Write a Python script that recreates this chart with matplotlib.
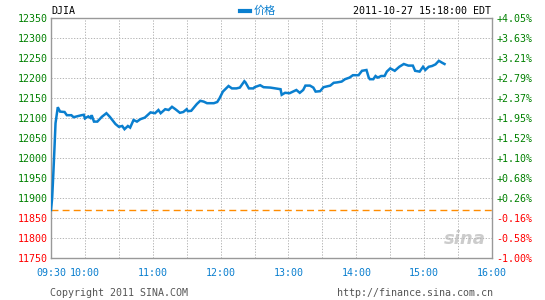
import matplotlib
matplotlib.use("Agg")
import matplotlib.pyplot as plt
from matplotlib.ticker import FixedLocator

# ---- data ----
times = ["09:30", "09:31", "09:32", "09:33", "09:34", "09:36", "09:38", "09:42", "09:44", "09:48",
         "09:50", "09:57", "09:59", "10:00", "10:03", "10:05", "10:06", "10:08", "10:11", "10:15",
         "10:19", "10:22", "10:27", "10:30", "10:33", "10:35", "10:38", "10:40", "10:43", "10:46",
         "10:49", "10:53", "10:58", "11:02", "11:05", "11:07", "11:11", "11:14", "11:17", "11:20",
         "11:24", "11:27", "11:30", "11:31", "11:34", "11:39", "11:42", "11:45", "11:48", "11:54",
         "11:57", "11:59", "12:02", "12:07", "12:10", "12:14", "12:17", "12:21", "12:22", "12:25",
         "12:29", "12:30", "12:35", "12:38", "12:44", "12:53", "12:54", "12:57", "13:01", "13:04",
         "13:07", "13:10", "13:13", "13:15", "13:19", "13:22", "13:24", "13:28", "13:31", "13:37",
         "13:40", "13:43", "13:47", "13:50", "13:54", "13:57", "14:02", "14:05", "14:09", "14:11",
         "14:12", "14:15", "14:17", "14:19", "14:22", "14:25", "14:27", "14:30", "14:34", "14:38",
         "14:42", "14:46", "14:50", "14:52", "14:56", "14:59", "15:01", "15:04", "15:07", "15:10",
         "15:13", "15:16", "15:18"]
prices = [11870, 11899, 11957, 12020, 12087, 12127, 12116, 12115, 12107, 12107,
          12102, 12107, 12108, 12099, 12104, 12100, 12107, 12091, 12091, 12103,
          12112, 12103, 12085, 12078, 12080, 12072, 12080, 12076, 12095, 12091,
          12097, 12101, 12114, 12112, 12120, 12112, 12122, 12120, 12128, 12122,
          12113, 12115, 12122, 12117, 12118, 12135, 12143, 12141, 12137, 12137,
          12140, 12149, 12166, 12180, 12174, 12174, 12176, 12192, 12189, 12174,
          12174, 12177, 12182, 12177, 12176, 12172, 12158, 12163, 12162, 12166,
          12170, 12163, 12170, 12181, 12181, 12176, 12166, 12167, 12177, 12181,
          12188, 12189, 12191, 12197, 12201, 12207, 12207, 12218, 12220, 12201,
          12197, 12197, 12205, 12201, 12205, 12205, 12216, 12224, 12218, 12228,
          12235, 12231, 12231, 12218, 12216, 12228, 12220, 12228, 12230, 12234,
          12243, 12238, 12235]
prev_close = 11869.04
y_ticks = [11750, 11800, 11850, 11900, 11950, 12000, 12050, 12100, 12150, 12200, 12250, 12300, 12350]
pct_labels = ["-1.00%", "-0.58%", "-0.16%", "+0.26%", "+0.68%", "+1.10%", "+1.52%", "+1.95%",
              "+2.37%", "+2.79%", "+3.21%", "+3.63%", "+4.05%"]
x_tick_labels = ["09:30", "10:00", "11:00", "12:00", "13:00", "14:00", "15:00", "16:00"]
title_left = "DJIA"
legend_label = "价格"
timestamp = "2011-10-27 15:18:00 EDT"
footer_left = "Copyright 2011 SINA.COM"
footer_right = "http://finance.sina.com.cn"


def to_min(t):
    h, m = t.split(":")
    return (int(h) - 9) * 60 + int(m) - 30


xs = [to_min(t) for t in times]
x_tick_pos = [to_min(t) for t in x_tick_labels]

BLUE = "#0a7fcf"
GREEN = "#008000"
RED = "#ff0000"
MONO = ["DejaVu Sans Mono"]
FS = 7.2

fig = plt.figure(figsize=(5.45, 3.0), dpi=100)
fig.patch.set_facecolor("white")
ax = fig.add_axes([51 / 545, 42 / 300, 441 / 545, 240 / 300])

ax.plot(xs, prices, color=BLUE, lw=1.8, solid_joinstyle="miter", zorder=3)
ax.axhline(prev_close, color="#ff8c00", lw=1.0, dashes=(5, 3), zorder=2)

ax.set_xlim(0, 390)
ax.set_ylim(y_ticks[0], y_ticks[-1])

ax.xaxis.set_major_locator(FixedLocator(x_tick_pos))
ax.set_xticklabels(x_tick_labels)
ax.set_yticks(y_ticks)
ax.set_yticklabels([str(v) for v in y_ticks])
ax.grid(False)
for v in y_ticks[1:-1]:
    ax.axhline(v, color="#b4b4b4", lw=0.7, ls=(0, (1.3, 1.6)), zorder=1)
for m in range(30, 390, 30):
    ax.axvline(m, color="#b4b4b4", lw=0.7, ls=(0, (1.3, 1.6)), zorder=1)

for s in ax.spines.values():
    s.set_color("#999999")
    s.set_linewidth(1.0)

ax.tick_params(axis="both", which="both", length=0)
ax.tick_params(axis="y", pad=2)
ax.tick_params(axis="x", pad=7)
for lbl, v in zip(ax.get_yticklabels(), y_ticks):
    lbl.set_fontfamily(MONO)
    lbl.set_fontsize(FS)
    lbl.set_color(GREEN if v > prev_close else RED)
for lbl in ax.get_xticklabels():
    lbl.set_fontfamily(MONO)
    lbl.set_fontsize(FS)
    lbl.set_color(BLUE)

ax2 = ax.twinx()
ax2.set_ylim(y_ticks[0], y_ticks[-1])
ax2.set_yticks(y_ticks)
ax2.set_yticklabels(pct_labels)
ax2.tick_params(axis="y", length=0, pad=3)
for s in ax2.spines.values():
    s.set_visible(False)
for lbl, v in zip(ax2.get_yticklabels(), y_ticks):
    lbl.set_fontfamily(MONO)
    lbl.set_fontsize(FS)
    lbl.set_color(GREEN if v > prev_close else RED)

# header
fig.text(51 / 545, 1 - 11 / 300, title_left, fontfamily=MONO, fontsize=FS, color="black",
         va="center", ha="left")
fig.lines.append(plt.Line2D([240 / 545, 250 / 545], [1 - 11 / 300, 1 - 11 / 300],
                            transform=fig.transFigure, color=BLUE, lw=3))
fig.text(254 / 545, 1 - 11 / 300, legend_label, fontfamily=["Noto Sans CJK SC", "DejaVu Sans"],
         fontsize=8, color=BLUE, va="center", ha="left")
fig.text(491 / 545, 1 - 11 / 300, timestamp, fontfamily=MONO, fontsize=FS, color="black",
         va="center", ha="right")

# footer
fig.text(50 / 545, 1 - 293 / 300, footer_left, fontfamily=MONO, fontsize=FS, color="#555555",
         va="center", ha="left")
fig.text(493 / 545, 1 - 293 / 300, footer_right, fontfamily=MONO, fontsize=FS, color="#555555",
         va="center", ha="right")

# watermark
ax.text(0.985, 0.04, "sina", transform=ax.transAxes, fontsize=13, fontweight="bold",
        fontstyle="italic", color="#cccccc", ha="right", va="bottom", zorder=0)

fig.savefig("out.png", dpi=100, facecolor="white")
